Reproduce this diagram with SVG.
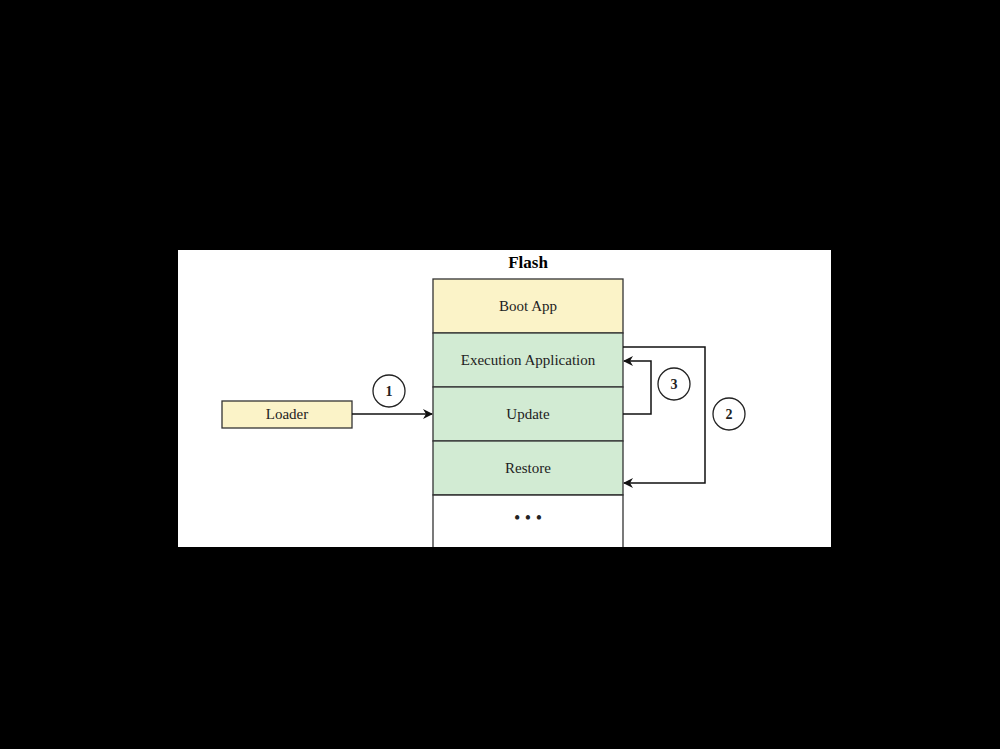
<svg xmlns="http://www.w3.org/2000/svg" width="1000" height="749" viewBox="0 0 1000 749">
<style>
text{font-family:"Liberation Serif",serif;font-size:15px;fill:#222;text-anchor:middle;dominant-baseline:central}
.y{fill:#fbf3c8;stroke:#333;stroke-width:1.3}
.g{fill:#d2ebd3;stroke:#333;stroke-width:1.3}
.c{fill:#fff;stroke:#222;stroke-width:1.3}
.l{fill:none;stroke:#111;stroke-width:1.5}
.n{font-weight:bold;font-size:14px}
</style>
<defs><marker id="a" markerWidth="10" markerHeight="10" refX="9" refY="5" orient="auto" markerUnits="userSpaceOnUse"><path d="M0,0 L10,5 L0,10 L3,5 Z" fill="#111"/></marker></defs>
<rect width="1000" height="749" fill="#000"/>
<rect x="178" y="250" width="653" height="297" fill="#fff"/>
<text x="528" y="262" style="font-weight:bold;font-size:17px;fill:#000">Flash</text>
<g id="boot"><rect class="y" x="433" y="279" width="190" height="54"/><text x="528" y="306">Boot App</text></g>
<g id="exec"><rect class="g" x="433" y="333" width="190" height="54"/><text x="528" y="360">Execution Application</text></g>
<g id="update"><rect class="g" x="433" y="387" width="190" height="54"/><text x="528" y="414">Update</text></g>
<g id="restore"><rect class="g" x="433" y="441" width="190" height="54"/><text x="528" y="468">Restore</text></g>
<g id="more"><path d="M433,547 V495 H623 V547" fill="#fff" stroke="#333" stroke-width="1.3"/><text x="528" y="518" style="font-size:18px">• • •</text></g>
<g id="loader"><rect class="y" x="222" y="401" width="130" height="27"/><text x="287" y="414">Loader</text></g>
<g id="connectors">
<path class="l" d="M352,414 H432" marker-end="url(#a)"/>
<path class="l" d="M623,347 H705 V483 H624" marker-end="url(#a)"/>
<path class="l" d="M623,414 H651 V361 H624" marker-end="url(#a)"/>
</g>
<g id="n1"><circle class="c" cx="389" cy="391" r="16"/><text class="n" x="389" y="391">1</text></g>
<g id="n3"><circle class="c" cx="674" cy="384" r="16"/><text class="n" x="674" y="384">3</text></g>
<g id="n2"><circle class="c" cx="729" cy="414" r="16"/><text class="n" x="729" y="414">2</text></g>
</svg>
